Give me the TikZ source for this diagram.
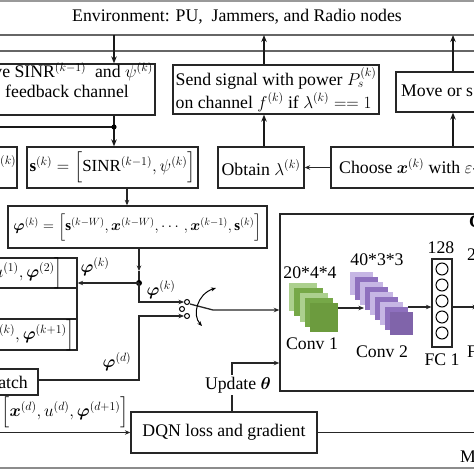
\documentclass[tikz,border=0pt]{standalone}
\usepackage{amsmath}
\usepackage{bm}
\usepackage{graphicx}
\usepackage{fontspec}
\setmainfont{Liberation Serif}
\usetikzlibrary{arrows.meta}
\definecolor{gA}{RGB}{172,208,142}
\definecolor{gB}{RGB}{118,168,72}
\definecolor{gC}{RGB}{108,155,62}
\definecolor{pA}{RGB}{198,182,228}
\definecolor{pB}{RGB}{142,112,190}
\definecolor{pC}{RGB}{128,100,170}
\tikzset{
  box/.style={draw=black!85, line width=1.3bp, inner sep=0pt},
  ln/.style={draw=black!85, line width=1.3bp},
  tk/.style={draw=black!90, line width=1.8bp},
  arr/.style={-{Stealth[length=7bp,width=5.5bp]}},
  sarr/.style={-{Stealth[length=5.5bp,width=4.5bp]}},
  contact/.style={circle, draw=black, fill=white, line width=1bp, inner sep=0pt, minimum size=5bp},
  mfont/.style={font=\fontsize{17}{20}\selectfont},
}
\begin{document}
\begin{tikzpicture}[x=1bp,y=-1bp, font=\fontsize{17.8}{21}\selectfont]
\useasboundingbox (0,0) rectangle (474,474);
\clip (0,0) rectangle (474,474);
\fill[white] (0,0) rectangle (474,474);
% environment band
\draw[line width=3bp, black!40] (0,1) -- (474,1);
\node (env) at (237,17) {Environment: PU,\ \ Jammers, and Radio nodes};
\draw[line width=1.5bp, black!60] (0,35) -- (474,35);
\draw[line width=1.5bp, black!60] (0,51) -- (474,51);
\coordinate (e1) at (114,35);
\coordinate (e2) at (264,35);
\coordinate (e3) at (453,35);
% top boxes
\node[box, minimum width=200bp, minimum height=51bp] (recv) at (55,89.5) {};
\node[anchor=base east, inner sep=0pt] (recvA) at (153,78) {ve SINR$^{(k-1)}$\ \ and $\psi^{(k)}$};
\node[anchor=base east, inner sep=0pt] (recvB) at (129,98) {feedback channel};
\node[box, minimum width=206bp, minimum height=49bp, align=left, font=\fontsize{17.8}{23}\selectfont] (send) at (276,89.5) {Send signal with power $P_s^{(k)}$\\on channel $f^{(k)}$ if $\lambda^{(k)}==1$};
\node[box, minimum width=164bp, minimum height=40bp] (move) at (478,92) {};
\node[anchor=base west, inner sep=0pt] (moveT) at (401,97) {Move or s};
\draw[tk, arr] (e1) -- (recv.north -| e1);
\draw[tk, arr] (send.north -| e2) -- (e2);
\draw[tk, arr] (move.north -| e3) -- (e3);
% second row
\node[box, minimum width=114bp, minimum height=41bp] (lbox) at (-40,167.5) {};
\node[inner sep=0pt] (lboxT) at (8,162) {$\scriptstyle (k)$};
\node[box, mfont, minimum width=171bp, minimum height=41bp] (sbox) at (112.5,167.5) {$\mathbf{s}^{(k)}=\Bigl[\text{SINR}^{(k-1)},\psi^{(k)}\Bigr]$};
\node[box, minimum width=86bp, minimum height=41bp] (obt) at (261,167.5) {Obtain $\lambda^{(k)}$};
\node[box, minimum width=229bp, minimum height=41bp] (cho) at (445.5,167.5) {};
\node[anchor=base west, inner sep=0pt] (choT) at (339,174) {Choose $\bm{x}^{(k)}$ with $\varepsilon$-};
\coordinate (j1) at (114,127);
\coordinate (l1) at (0,127);
\draw[tk, arr] (recv.south -| e1) -- (sbox.north -| e1);
\draw[tk] (j1) -- (l1);
\fill (j1) circle (2.6bp);
\draw[tk, arr] (obt.north -| e2) -- (send.south -| e2);
\draw[tk, arr] (cho.north -| e3) -- (move.south -| e3);
\draw[ln, sarr] (cho.west) -- (obt.east);
% phi box
\node[box, mfont, minimum width=259bp, minimum height=42bp] (phi) at (137.5,227) {\resizebox{248bp}{!}{$\bm{\varphi}^{(k)}=\Bigl[\mathbf{s}^{(k-W)},\bm{x}^{(k-W)},\cdots,\bm{x}^{(k-1)},\mathbf{s}^{(k)}\Bigr]$}};
\coordinate (x1) at (127,0);
\draw[ln, sarr] (sbox.south -| x1) -- (phi.north -| x1);
\coordinate (j2) at (139,283);
\coordinate (j2m) at (139,271);
\draw[ln, sarr] (phi.south -| j2) -- (j2m);
\draw[ln] (j2m) -- (j2);
\fill (j2) circle (3bp);
% memory
\node[box, minimum width=177bp, minimum height=30bp] (m1) at (-11.5,273) {};
\node[box, minimum width=177bp, minimum height=31bp] (m2) at (-11.5,303.5) {};
\node[box, minimum width=177bp, minimum height=31bp] (m3) at (-11.5,334.5) {};
\node[mfont, anchor=east, inner sep=0pt] (m1T) at (63,273) {$u^{(1)},\bm{\varphi}^{(2)}\Bigr]$};
\node[mfont, anchor=east, inner sep=0pt] (m3T) at (75,335) {$u^{(k)},\bm{\varphi}^{(k+1)}\Bigr]$};
\draw[ln, sarr] (j2) -- (m1.east |- j2);
\node[mfont] (lphi1) at (95,267) {$\bm{\varphi}^{(k)}$};
% switch
\node[contact] (c1) at (187,302) {};
\node[contact] (c2) at (182,309) {};
\node[contact] (c3) at (187,316) {};
\coordinate (k1) at (139,302);
\draw[ln, sarr] (j2) -- (k1) -- (c1.west);
\node[mfont] (lphi2) at (161,290) {$\bm{\varphi}^{(k)}$};
\node[box, minimum width=116bp, minimum height=26bp] (atch) at (-20,382) {};
\node[anchor=base east, inner sep=0pt] (atchT) at (28,388) {atch};
\coordinate (k2) at (139,380);
\coordinate (k3) at (139,316);
\draw[ln, sarr] (atch.east |- k2) -- (k2) -- (k3) -- (c3.west);
\node[mfont] (lphid) at (117,362) {$\bm{\varphi}^{(d)}$};
% CNN
\node[box, line width=1.5bp, minimum width=320bp, minimum height=177bp] (cnn) at (440,302.5) {};
\coordinate (lv1) at (190,304);
\coordinate (lv2) at (213,310);
\draw[ln, sarr] (lv1) -- (lv2) -- (cnn.west |- lv2);
\draw[line width=1bp, {Stealth[length=5bp,width=4bp]}-{Stealth[length=5bp,width=4bp]}] (216,288) .. controls (197,294) and (192,315) .. (202,326);
\foreach \i/\c in {0/gA,1/gB,2/gA,3/gB,4/gC} {
  \fill[\c] (289+5.25*\i, 283+5.1*\i) rectangle ++(28.3,28.3);
}
\foreach \i/\c in {0/pA,1/pB,2/pA,3/pB,4/pA,5/pB,6/pA,7/pB,8/pC} {
  \fill[\c] (350+5*\i, 272+5*\i) rectangle ++(23,23);
}
\node (l20) at (310,273) {20*4*4};
\node (l40) at (377,260) {40*3*3};
\node (lc1) at (312,344) {Conv 1};
\node (lc2) at (382,352) {Conv 2};
\node (l128) at (441,248) {128};
\node[box, line width=1.2bp, minimum width=20bp, minimum height=88bp] (fc1) at (442,303) {};
\foreach \y in {269,285,301,317,333} \draw[line width=1bp] (442,\y) circle (6bp);
\node[anchor=base] (lfc1) at (442,365) {FC 1};
\coordinate (a1s) at (338,308);
\coordinate (a1e) at (364,308);
\coordinate (a2s) at (408,307);
\coordinate (a3e) at (478,307);
\draw[ln, sarr] (a1s) -- (a1e);
\draw[ln, sarr] (a2s) -- (fc1.west |- a2s);
\draw[ln, sarr] (fc1.east |- a2s) -- (a3e);
\node[anchor=base west, inner sep=0pt] (pc) at (469,228) {\textbf{C}};
\node[anchor=base west, inner sep=0pt] (p2) at (467,260) {2};
\node[anchor=base west, inner sep=0pt] (pf) at (467,357) {F};
\node[anchor=base west, inner sep=0pt] (pm) at (460,462) {M};
% DQN
\node[box, minimum width=186bp, minimum height=41bp] (dqn) at (224,432.5) {DQN loss and gradient};
\coordinate (u1) at (232,363);
\draw[ln, sarr] (dqn.north -| u1) -- (u1) -- (cnn.west |- u1);
\node[fill=white, inner sep=1.5bp] (upd) at (238,385) {Update $\bm{\theta}$};
\coordinate (in1) at (0,432.5);
\draw[ln, sarr] (in1) -- (dqn.west);
\node[mfont] (lxud) at (65,412) {$\Bigl[\bm{x}^{(d)},u^{(d)},\bm{\varphi}^{(d+1)}\Bigr]$};
\coordinate (out1) at (476,432.5);
\draw[ln] (dqn.east) -- (out1);
\draw[line width=2bp, black!45] (0,468) -- (474,468);
\end{tikzpicture}
\end{document}
